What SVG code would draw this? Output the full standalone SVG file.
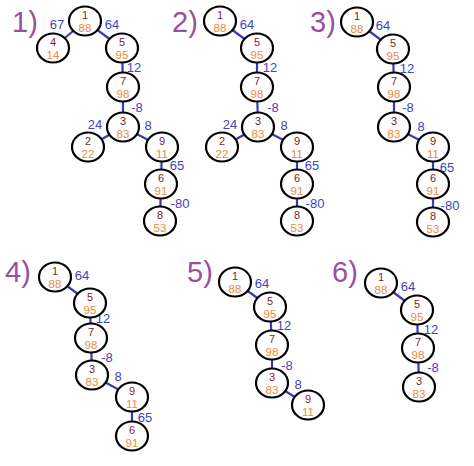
<svg xmlns="http://www.w3.org/2000/svg" width="474" height="466" viewBox="0 0 474 466">
<style>
.e{stroke:#3a3ab8;stroke-width:2.2;fill:none}
.n ellipse{fill:#fff;stroke:#000;stroke-width:2.2}
.k{font-family:"Liberation Sans",Arial,sans-serif;font-size:11px;fill:#7a1f2a;text-anchor:middle}
.v{font-family:"Liberation Sans",Arial,sans-serif;font-size:11.5px;fill:#ee8a3a;text-anchor:middle}
.w{font-family:"Liberation Sans",Arial,sans-serif;font-size:13px;fill:#4343c0;text-anchor:middle}
.p{font-family:"Liberation Sans",Arial,sans-serif;font-size:29px;fill:#9a4f9e}
</style>
<rect width="474" height="466" fill="#fff"/>
<g id="panel-labels">
<text class="p" x="12" y="32">1)</text>
<text class="p" x="172" y="32">2)</text>
<text class="p" x="310" y="32">3)</text>
<text class="p" x="5" y="282">4)</text>
<text class="p" x="187" y="282">5)</text>
<text class="p" x="332" y="282">6)</text>
</g>
<g id="connectors">
<line class="e" x1="85" y1="21" x2="53" y2="48"/>
<line class="e" x1="85" y1="21" x2="122" y2="48"/>
<line class="e" x1="122" y1="48" x2="123" y2="87"/>
<line class="e" x1="123" y1="87" x2="123" y2="127"/>
<line class="e" x1="123" y1="127" x2="88" y2="147"/>
<line class="e" x1="123" y1="127" x2="162" y2="147"/>
<line class="e" x1="162" y1="147" x2="161" y2="184"/>
<line class="e" x1="161" y1="184" x2="160" y2="221"/>
<line class="e" x1="220" y1="21" x2="257" y2="48"/>
<line class="e" x1="257" y1="48" x2="257" y2="87"/>
<line class="e" x1="257" y1="87" x2="258" y2="127"/>
<line class="e" x1="258" y1="127" x2="222" y2="147"/>
<line class="e" x1="258" y1="127" x2="297" y2="147"/>
<line class="e" x1="297" y1="147" x2="297" y2="184"/>
<line class="e" x1="297" y1="184" x2="297" y2="221"/>
<line class="e" x1="357" y1="22" x2="393" y2="49"/>
<line class="e" x1="393" y1="49" x2="394" y2="87"/>
<line class="e" x1="394" y1="87" x2="394" y2="127"/>
<line class="e" x1="394" y1="127" x2="433" y2="147"/>
<line class="e" x1="433" y1="147" x2="433" y2="184"/>
<line class="e" x1="433" y1="184" x2="433" y2="222"/>
<line class="e" x1="55" y1="277" x2="90" y2="303"/>
<line class="e" x1="90" y1="303" x2="91" y2="338"/>
<line class="e" x1="91" y1="338" x2="92" y2="375"/>
<line class="e" x1="92" y1="375" x2="132" y2="397"/>
<line class="e" x1="132" y1="397" x2="132" y2="436"/>
<line class="e" x1="235" y1="282" x2="270" y2="307"/>
<line class="e" x1="270" y1="307" x2="272" y2="345"/>
<line class="e" x1="272" y1="345" x2="272" y2="383"/>
<line class="e" x1="272" y1="383" x2="308" y2="405"/>
<line class="e" x1="381" y1="283" x2="417" y2="310"/>
<line class="e" x1="417" y1="310" x2="418" y2="348"/>
<line class="e" x1="418" y1="348" x2="419" y2="387"/>
</g>
<g id="edge-labels">
<text class="w" x="57" y="29">67</text>
<text class="w" x="112" y="29">64</text>
<text class="w" x="134" y="72">12</text>
<text class="w" x="137" y="112">-8</text>
<text class="w" x="95" y="129">24</text>
<text class="w" x="148" y="130">8</text>
<text class="w" x="177" y="170">65</text>
<text class="w" x="180" y="208">-80</text>
<text class="w" x="247" y="29">64</text>
<text class="w" x="270" y="72">12</text>
<text class="w" x="273" y="112">-8</text>
<text class="w" x="230" y="129">24</text>
<text class="w" x="284" y="130">8</text>
<text class="w" x="312" y="170">65</text>
<text class="w" x="315" y="208">-80</text>
<text class="w" x="383" y="30">64</text>
<text class="w" x="407" y="73">12</text>
<text class="w" x="408" y="112">-8</text>
<text class="w" x="421" y="131">8</text>
<text class="w" x="447" y="172">65</text>
<text class="w" x="450" y="210">-80</text>
<text class="w" x="82" y="280">64</text>
<text class="w" x="103" y="323">12</text>
<text class="w" x="107" y="362">-8</text>
<text class="w" x="118" y="381">8</text>
<text class="w" x="145" y="422">65</text>
<text class="w" x="262" y="288">64</text>
<text class="w" x="284" y="330">12</text>
<text class="w" x="287" y="370">-8</text>
<text class="w" x="298" y="389">8</text>
<text class="w" x="408" y="291">64</text>
<text class="w" x="431" y="334">12</text>
<text class="w" x="433" y="372">-8</text>
</g>
<g id="p1-n1" class="n"><ellipse cx="85" cy="21" rx="16" ry="14.5"/><text class="k" x="85" y="19">1</text><text class="v" x="85" y="32">88</text></g>
<g id="p1-n4" class="n"><ellipse cx="53" cy="48" rx="16" ry="14.5"/><text class="k" x="53" y="46">4</text><text class="v" x="53" y="59">14</text></g>
<g id="p1-n5" class="n"><ellipse cx="122" cy="48" rx="16" ry="14.5"/><text class="k" x="122" y="46">5</text><text class="v" x="122" y="59">95</text></g>
<g id="p1-n7" class="n"><ellipse cx="123" cy="87" rx="16" ry="14.5"/><text class="k" x="123" y="85">7</text><text class="v" x="123" y="98">98</text></g>
<g id="p1-n3" class="n"><ellipse cx="123" cy="127" rx="16" ry="14.5"/><text class="k" x="123" y="125">3</text><text class="v" x="123" y="138">83</text></g>
<g id="p1-n2" class="n"><ellipse cx="88" cy="147" rx="16" ry="14.5"/><text class="k" x="88" y="145">2</text><text class="v" x="88" y="158">22</text></g>
<g id="p1-n9" class="n"><ellipse cx="162" cy="147" rx="16" ry="14.5"/><text class="k" x="162" y="145">9</text><text class="v" x="162" y="158">11</text></g>
<g id="p1-n6" class="n"><ellipse cx="161" cy="184" rx="16" ry="14.5"/><text class="k" x="161" y="182">6</text><text class="v" x="161" y="195">91</text></g>
<g id="p1-n8" class="n"><ellipse cx="160" cy="221" rx="16" ry="14.5"/><text class="k" x="160" y="219">8</text><text class="v" x="160" y="232">53</text></g>
<g id="p2-n1" class="n"><ellipse cx="220" cy="21" rx="16" ry="14.5"/><text class="k" x="220" y="19">1</text><text class="v" x="220" y="32">88</text></g>
<g id="p2-n5" class="n"><ellipse cx="257" cy="48" rx="16" ry="14.5"/><text class="k" x="257" y="46">5</text><text class="v" x="257" y="59">95</text></g>
<g id="p2-n7" class="n"><ellipse cx="257" cy="87" rx="16" ry="14.5"/><text class="k" x="257" y="85">7</text><text class="v" x="257" y="98">98</text></g>
<g id="p2-n3" class="n"><ellipse cx="258" cy="127" rx="16" ry="14.5"/><text class="k" x="258" y="125">3</text><text class="v" x="258" y="138">83</text></g>
<g id="p2-n2" class="n"><ellipse cx="222" cy="147" rx="16" ry="14.5"/><text class="k" x="222" y="145">2</text><text class="v" x="222" y="158">22</text></g>
<g id="p2-n9" class="n"><ellipse cx="297" cy="147" rx="16" ry="14.5"/><text class="k" x="297" y="145">9</text><text class="v" x="297" y="158">11</text></g>
<g id="p2-n6" class="n"><ellipse cx="297" cy="184" rx="16" ry="14.5"/><text class="k" x="297" y="182">6</text><text class="v" x="297" y="195">91</text></g>
<g id="p2-n8" class="n"><ellipse cx="297" cy="221" rx="16" ry="14.5"/><text class="k" x="297" y="219">8</text><text class="v" x="297" y="232">53</text></g>
<g id="p3-n1" class="n"><ellipse cx="357" cy="22" rx="16" ry="14.5"/><text class="k" x="357" y="20">1</text><text class="v" x="357" y="33">88</text></g>
<g id="p3-n5" class="n"><ellipse cx="393" cy="49" rx="16" ry="14.5"/><text class="k" x="393" y="47">5</text><text class="v" x="393" y="60">95</text></g>
<g id="p3-n7" class="n"><ellipse cx="394" cy="87" rx="16" ry="14.5"/><text class="k" x="394" y="85">7</text><text class="v" x="394" y="98">98</text></g>
<g id="p3-n3" class="n"><ellipse cx="394" cy="127" rx="16" ry="14.5"/><text class="k" x="394" y="125">3</text><text class="v" x="394" y="138">83</text></g>
<g id="p3-n9" class="n"><ellipse cx="433" cy="147" rx="16" ry="14.5"/><text class="k" x="433" y="145">9</text><text class="v" x="433" y="158">11</text></g>
<g id="p3-n6" class="n"><ellipse cx="433" cy="184" rx="16" ry="14.5"/><text class="k" x="433" y="182">6</text><text class="v" x="433" y="195">91</text></g>
<g id="p3-n8" class="n"><ellipse cx="433" cy="222" rx="16" ry="14.5"/><text class="k" x="433" y="220">8</text><text class="v" x="433" y="233">53</text></g>
<g id="p4-n1" class="n"><ellipse cx="55" cy="277" rx="16" ry="14.5"/><text class="k" x="55" y="275">1</text><text class="v" x="55" y="288">88</text></g>
<g id="p4-n5" class="n"><ellipse cx="90" cy="303" rx="16" ry="14.5"/><text class="k" x="90" y="301">5</text><text class="v" x="90" y="314">95</text></g>
<g id="p4-n7" class="n"><ellipse cx="91" cy="338" rx="16" ry="14.5"/><text class="k" x="91" y="336">7</text><text class="v" x="91" y="349">98</text></g>
<g id="p4-n3" class="n"><ellipse cx="92" cy="375" rx="16" ry="14.5"/><text class="k" x="92" y="373">3</text><text class="v" x="92" y="386">83</text></g>
<g id="p4-n9" class="n"><ellipse cx="132" cy="397" rx="16" ry="14.5"/><text class="k" x="132" y="395">9</text><text class="v" x="132" y="408">11</text></g>
<g id="p4-n6" class="n"><ellipse cx="132" cy="436" rx="16" ry="14.5"/><text class="k" x="132" y="434">6</text><text class="v" x="132" y="447">91</text></g>
<g id="p5-n1" class="n"><ellipse cx="235" cy="282" rx="16" ry="14.5"/><text class="k" x="235" y="280">1</text><text class="v" x="235" y="293">88</text></g>
<g id="p5-n5" class="n"><ellipse cx="270" cy="307" rx="16" ry="14.5"/><text class="k" x="270" y="305">5</text><text class="v" x="270" y="318">95</text></g>
<g id="p5-n7" class="n"><ellipse cx="272" cy="345" rx="16" ry="14.5"/><text class="k" x="272" y="343">7</text><text class="v" x="272" y="356">98</text></g>
<g id="p5-n3" class="n"><ellipse cx="272" cy="383" rx="16" ry="14.5"/><text class="k" x="272" y="381">3</text><text class="v" x="272" y="394">83</text></g>
<g id="p5-n9" class="n"><ellipse cx="308" cy="405" rx="16" ry="14.5"/><text class="k" x="308" y="403">9</text><text class="v" x="308" y="416">11</text></g>
<g id="p6-n1" class="n"><ellipse cx="381" cy="283" rx="16" ry="14.5"/><text class="k" x="381" y="281">1</text><text class="v" x="381" y="294">88</text></g>
<g id="p6-n5" class="n"><ellipse cx="417" cy="310" rx="16" ry="14.5"/><text class="k" x="417" y="308">5</text><text class="v" x="417" y="321">95</text></g>
<g id="p6-n7" class="n"><ellipse cx="418" cy="348" rx="16" ry="14.5"/><text class="k" x="418" y="346">7</text><text class="v" x="418" y="359">98</text></g>
<g id="p6-n3" class="n"><ellipse cx="419" cy="387" rx="16" ry="14.5"/><text class="k" x="419" y="385">3</text><text class="v" x="419" y="398">83</text></g>
</svg>
